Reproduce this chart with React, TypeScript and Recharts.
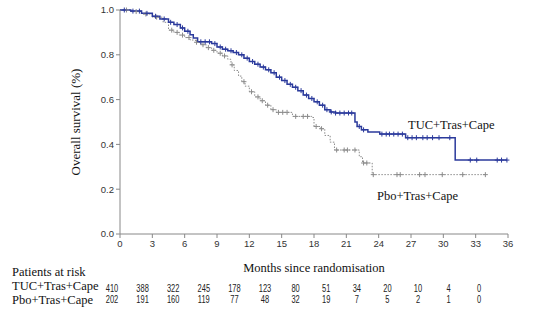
import React from 'react';
import { ComposedChart, Line, Scatter, XAxis, YAxis } from 'recharts';

// Kaplan-Meier steps: [month, survival]
const tucSteps = [
  [0, 1.0], [1, 0.995], [2, 0.985], [3, 0.972], [3.7, 0.96], [4.5, 0.945], [5, 0.935],
  [5.6, 0.92], [6, 0.905], [6.5, 0.89], [6.8, 0.875], [7.2, 0.858], [8.5, 0.85], [9, 0.835],
  [9.5, 0.825], [10, 0.818], [10.5, 0.81], [11, 0.8], [11.5, 0.785], [12, 0.77], [12.5, 0.758],
  [13, 0.745], [13.5, 0.733], [14, 0.72], [14.5, 0.7], [15, 0.685], [15.5, 0.668], [16, 0.655],
  [16.5, 0.64], [17, 0.62], [17.5, 0.605], [18, 0.59], [18.5, 0.575], [19, 0.555], [19.5, 0.545],
  [20, 0.54], [21.8, 0.5], [22, 0.48], [22.4, 0.465], [23, 0.455], [24.1, 0.446], [26.5, 0.43],
  [31.1, 0.33], [35.9, 0.33],
];
const pboSteps = [
  [0, 1.0], [1, 0.993], [2, 0.982], [3, 0.968], [4, 0.945], [4.5, 0.91], [5, 0.9], [5.5, 0.888],
  [6, 0.877], [6.5, 0.866], [7, 0.856], [7.5, 0.845], [8, 0.832], [8.5, 0.82], [9, 0.807],
  [9.5, 0.795], [10, 0.78], [10.3, 0.755], [10.6, 0.73], [11, 0.705], [11.3, 0.68], [11.6, 0.66],
  [12, 0.635], [12.5, 0.612], [13, 0.595], [13.5, 0.575], [14, 0.555], [14.5, 0.543], [16, 0.525],
  [17.8, 0.52], [18, 0.48], [18.6, 0.47], [19, 0.44], [19.5, 0.41], [19.9, 0.375], [22.2, 0.345],
  [22.5, 0.317], [23.4, 0.265], [34, 0.265],
];

// censoring times (months)
const tucCensor = [
  0.4, 1.2, 1.8, 2.5, 3.3, 4.1, 4.7, 5.3, 5.8, 6.3, 7.5, 7.9, 8.3, 8.8, 9.3, 9.8, 10.3, 10.8,
  11.3, 11.8, 12.3, 12.8, 13.3, 13.8, 14.3, 14.8, 15.3, 15.8, 16.3, 16.8, 17.3, 17.8, 18.3, 18.8,
  19.2, 19.6, 20, 20.4, 20.8, 21.2, 21.5, 22.2, 22.6, 24.3, 24.7, 25, 25.4, 25.8, 26.2, 26.7, 27.1,
  27.5, 28.1, 28.5, 29, 29.6, 30.6, 32.5, 33.1, 35, 35.4, 35.9,
];
const pboCensor = [
  0.6, 1.5, 2.4, 3.4, 4.8, 5.3, 5.8, 6.4, 7.1, 7.7, 8.2, 8.7, 9.3, 9.7, 10.4, 11.5, 12.2, 12.8,
  13.2, 13.7, 14.2, 14.7, 15.1, 15.5, 16.3, 17, 17.4, 18.2, 18.7, 20.1, 20.8, 21.1, 21.8, 22.6,
  22.9, 23.5, 25.7, 26, 27.8, 28.3, 29.9, 31.8, 33.9,
];

const riskTimes = [0, 3, 6, 9, 12, 15, 18, 21, 24, 27, 30, 33, 36];
const tucRisk = [410, 388, 322, 245, 178, 123, 80, 51, 34, 20, 10, 4, 0];
const pboRisk = [202, 191, 160, 119, 77, 48, 32, 19, 7, 5, 2, 1, 0];
const yTicks = [0, 0.2, 0.4, 0.6, 0.8, 1.0];

const toRows = (steps: number[][]) => steps.map(([t, s]) => ({ t, s }));
const survAt = (steps: number[][], t: number) => {
  let s = steps[0][1];
  for (const [st, sv] of steps) if (st <= t) s = sv;
  return s;
};
const censorRows = (steps: number[][], times: number[]) =>
  times.map((t) => ({ t, s: survAt(steps, t) }));

const BLUE = '#2b3a9c';
const GREY = '#8c8c8c';
const SERIF = '"Liberation Serif", "Times New Roman", serif';
const SANS = '"Liberation Sans", Arial, sans-serif';

const plus = (color: string) => (props: any) => {
  const { cx, cy } = props;
  return (
    <g stroke={color} strokeWidth={1}>
      <line x1={cx - 2.5} y1={cy} x2={cx + 2.5} y2={cy} />
      <line x1={cx} y1={cy - 2.5} x2={cx} y2={cy + 2.5} />
    </g>
  );
};

// narrow numbers like the risk table in the reference
const RiskNum = ({ x, y, v }: { x: number; y: number; v: number }) => (
  <text transform={`translate(${x},${y}) scale(0.75,1)`} textAnchor="middle" fontFamily={SANS} fontSize={10} fill="#222">
    {v}
  </text>
);

export default function App() {
  return (
    <div style={{ position: 'absolute', left: 0, top: 0, width: 554, height: 317, background: '#fff' }}>
      <ComposedChart width={554} height={317} margin={{ top: 10, right: 46, bottom: 63, left: 80 }}>
        <XAxis
          type="number"
          dataKey="t"
          domain={[0, 36]}
          ticks={riskTimes}
          allowDuplicatedCategory={false}
          stroke="#888"
          tickSize={4}
          height={20}
          tick={{ fontSize: 9.5, fill: '#333', fontFamily: SANS }}
        />
        <YAxis
          type="number"
          dataKey="s"
          domain={[0, 1]}
          ticks={yTicks}
          width={40}
          stroke="#888"
          tickSize={4}
          tickFormatter={(v: number) => v.toFixed(1)}
          tick={{ fontSize: 9.5, fill: '#333', fontFamily: SANS }}
        />
        <Line
          data={toRows(pboSteps)}
          dataKey="s"
          type="stepAfter"
          stroke={GREY}
          strokeWidth={1}
          strokeDasharray="1.5 1.5"
          dot={false}
          isAnimationActive={false}
        />
        <Line
          data={toRows(tucSteps)}
          dataKey="s"
          type="stepAfter"
          stroke={BLUE}
          strokeWidth={1.5}
          dot={false}
          isAnimationActive={false}
        />
        <Scatter data={censorRows(pboSteps, pboCensor)} dataKey="s" shape={plus(GREY)} isAnimationActive={false} />
        <Scatter data={censorRows(tucSteps, tucCensor)} dataKey="s" shape={plus(BLUE)} isAnimationActive={false} />
      </ComposedChart>
      <svg width={554} height={317} style={{ position: 'absolute', left: 0, top: 0, pointerEvents: 'none' }}>
        <text x={80} y={122} transform="rotate(-90 80 122)" textAnchor="middle" fontFamily={SERIF} fontSize={13} fill="#111">
          Overall survival (%)
        </text>
        <text x={408} y={129} fontFamily={SERIF} fontSize={12.5} fill="#111">TUC+Tras+Cape</text>
        <text x={377} y={200} fontFamily={SERIF} fontSize={12.5} fill="#111">Pbo+Tras+Cape</text>
        <text x={314} y={272} textAnchor="middle" fontFamily={SERIF} fontSize={12.5} fill="#111">
          Months since randomisation
        </text>
        <text x={12} y={276} fontFamily={SERIF} fontSize={12.5} fill="#111">Patients at risk</text>
        <text x={12} y={290} fontFamily={SERIF} fontSize={12.5} fill="#111">TUC+Tras+Cape</text>
        <text x={12} y={304} fontFamily={SERIF} fontSize={12.5} fill="#111">Pbo+Tras+Cape</text>
        {riskTimes.map((t, i) => (
          <g key={t}>
            <RiskNum x={112 + i * 30.6} y={292} v={tucRisk[i]} />
            <RiskNum x={112 + i * 30.6} y={303} v={pboRisk[i]} />
          </g>
        ))}
      </svg>
    </div>
  );
}
